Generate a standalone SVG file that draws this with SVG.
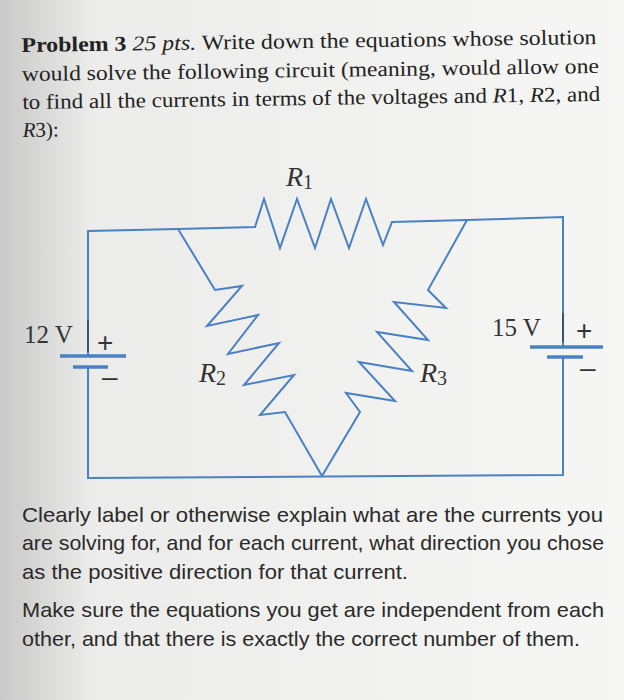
<svg xmlns="http://www.w3.org/2000/svg" width="624" height="700" viewBox="0 0 624 700">
<style>
.w{fill:none;stroke:#4a80c4;stroke-width:2;stroke-linejoin:miter}
.p{stroke:#4a80c4;stroke-width:3.5}
.s{font-family:"Liberation Serif",serif;fill:#222;font-size:21px}
.l{font-family:"Liberation Serif",serif;fill:#333;font-size:25px}
.r{font-family:"Liberation Serif",serif;fill:#333;font-size:28px;font-style:italic}
.sub{font-style:normal;font-size:20px}
.pm{font-family:"Liberation Sans",sans-serif;fill:#333;font-size:28px}
.b{font-family:"Liberation Sans",sans-serif;fill:#2a2a2a;font-size:21px}
</style>
<defs><linearGradient id="g" x1="0" x2="1"><stop offset="0" stop-color="#c9c9c9"/><stop offset="0.15" stop-color="#ececea"/><stop offset="1" stop-color="#f6f6f4"/></linearGradient></defs>
<rect width="624" height="700" fill="url(#g)"/>
<g id="problem" class="s" transform="rotate(-0.8 310 80)">
<text x="22" y="48" textLength="575" lengthAdjust="spacingAndGlyphs"><tspan font-weight="bold">Problem 3</tspan> <tspan font-style="italic">25 pts.</tspan> Write down the equations whose solution</text>
<text x="22" y="77" textLength="577" lengthAdjust="spacingAndGlyphs">would solve the following circuit (meaning, would allow one</text>
<text x="22" y="105" textLength="578" lengthAdjust="spacingAndGlyphs">to find all the currents in terms of the voltages and <tspan font-style="italic">R</tspan>1, <tspan font-style="italic">R</tspan>2, and</text>
<text x="22" y="133"><tspan font-style="italic">R</tspan>3):</text>
</g>
<g id="connectors">
<path class="w" d="M88,357 V231 L178,229 L255,227 L264,199 L280,248 L297,199 L315,248 L331,199 L349,248 L366,199 L383,245 L392,222 L467,220 L563,217 V347"/>
<path class="w" d="M563,357 V475 L88,478 V367"/>
<path class="w" d="M178,229 L215,290 L242,286 L207,326 L258,315 L228,354 L279,343 L244,385 L294,375 L260,415 L285,412 L322,476"/>
<path class="w" d="M467,220 L428,290 L446,308 L394,302 L428,340 L377,332 L412,371 L359,362 L395,401 L346,393 L360,412 L322,476"/>
</g>
<g id="battery12">
<line class="p" x1="60" y1="356" x2="126" y2="356"/>
<line class="p" x1="73" y1="367" x2="108" y2="367"/>
<text class="l" x="24" y="343">12 V</text>
<line x1="88" y1="320" x2="88" y2="352" stroke="#333" stroke-width="1.2"/>
<text class="pm" x="97" y="352">+</text>
<text class="pm" x="102" y="386">–</text>
</g>
<g id="battery15">
<line class="p" x1="530" y1="347" x2="603" y2="347"/>
<line class="p" x1="547" y1="357" x2="583" y2="357"/>
<text class="l" x="492" y="336">15 V</text>
<line x1="563" y1="313" x2="563" y2="342" stroke="#333" stroke-width="1.2"/>
<text class="pm" x="576" y="340">+</text>
<text class="pm" x="580" y="377">–</text>
</g>
<g id="R1"><text class="r" x="286" y="186">R<tspan class="sub" dy="3">1</tspan></text></g>
<g id="R2"><text class="r" x="199" y="382">R<tspan class="sub" dy="3">2</tspan></text></g>
<g id="R3"><text class="r" x="420" y="382">R<tspan class="sub" dy="3">3</tspan></text></g>
<g id="instructions" class="b">
<text x="22" y="522" textLength="581" lengthAdjust="spacingAndGlyphs">Clearly label or otherwise explain what are the currents you</text>
<text x="22" y="550" textLength="582" lengthAdjust="spacingAndGlyphs">are solving for, and for each current, what direction you chose</text>
<text x="22" y="579" textLength="386" lengthAdjust="spacingAndGlyphs">as the positive direction for that current.</text>
<text x="22" y="617" textLength="582" lengthAdjust="spacingAndGlyphs">Make sure the equations you get are independent from each</text>
<text x="22" y="646" textLength="558" lengthAdjust="spacingAndGlyphs">other, and that there is exactly the correct number of them.</text>
</g>
</svg>
